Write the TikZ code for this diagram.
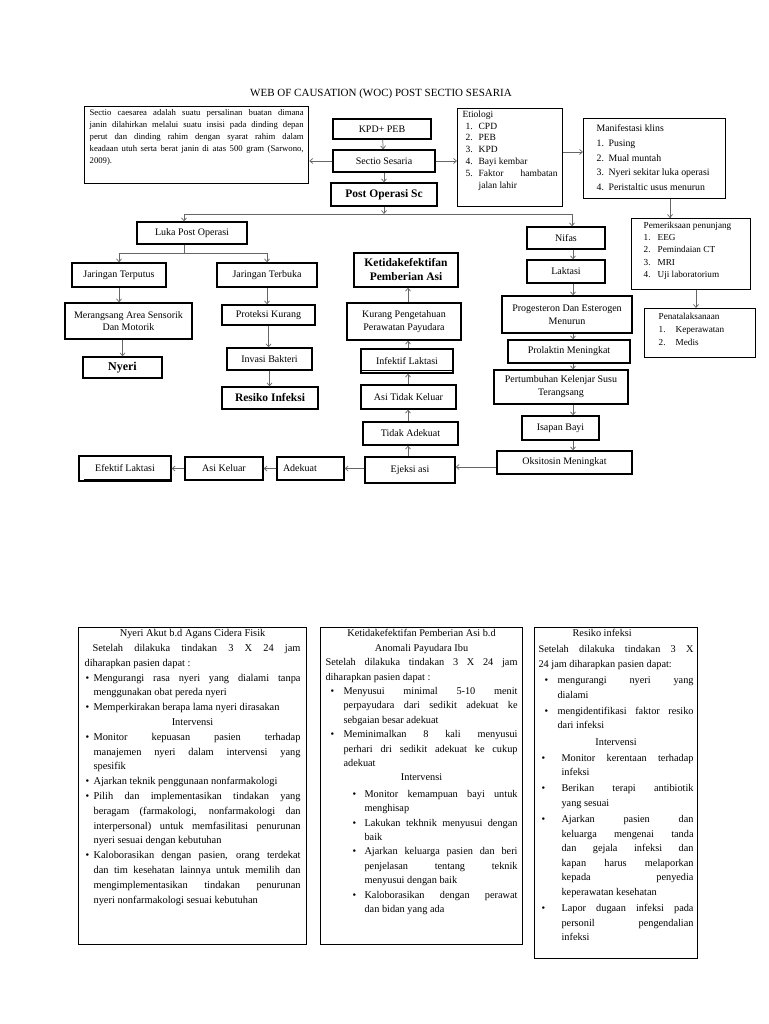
\documentclass[tikz,border=0pt]{standalone}
\usepackage{fontspec}
\setmainfont{Liberation Serif}
\usetikzlibrary{arrows.meta}
\newcommand{\fsn}{\fontsize{10}{12.8}\selectfont}
\newcommand{\fsb}{\fontsize{11.5}{14}\selectfont\bfseries}
\newcommand{\fsd}{\fontsize{8.7}{12}\selectfont}
\newcommand{\fse}{\fontsize{9.5}{11.8}\selectfont}
\newcommand{\fsm}{\fontsize{9.8}{14.8}\selectfont}
\newcommand{\fsp}{\fontsize{9.2}{12.4}\selectfont}
\newcommand{\fsq}{\fontsize{9.2}{13}\selectfont}
\newcommand{\lab}[4]{\par\noindent\hangindent=#2\hangafter=1\makebox[#2][l]{\hspace*{#1}#3}\ignorespaces#4}
\newcommand{\bul}[3]{\lab{#1}{#2}{\textbullet}{#3}}
\tikzset{
  box/.style={draw, line width=1.3pt, align=center, inner sep=1pt, font=\fsn},
  tbox/.style={draw, line width=1.1pt, anchor=north west, align=left},
  arr/.style={draw=black!60, line width=0.7pt, -{Straight Barb[length=3pt,width=5pt]}},
  ln/.style={draw=black!60, line width=0.7pt},
}
\begin{document}
\begin{tikzpicture}[x=1pt,y=-1pt]
\useasboundingbox (0,0) rectangle (768,1024);
\fill[white] (0,0) rectangle (768,1024);

\node[font=\fontsize{11}{13}\selectfont] (title) at (381,94) {WEB OF CAUSATION (WOC) POST SECTIO SESARIA};

% top row
\node[tbox, line width=1.3pt, inner xsep=5pt, inner ysep=3pt] (def) at (84,106)
 {\parbox[t][71pt][t]{214pt}{\fsd Sectio caesarea adalah suatu persalinan buatan dimana\linebreak
 janin dilahirkan melalui suatu insisi pada dinding depan\linebreak
 perut dan dinding rahim dengan syarat rahim dalam\linebreak
 keadaan utuh serta berat janin di atas 500 gram (Sarwono,\linebreak
 2009).}};
\node[box, minimum width=98, minimum height=20] (kpd) at (382,129) {KPD+ PEB};
\node[box, minimum width=102, minimum height=22] (sectio) at (384,161) {Sectio Sesaria};
\node[box, font=\fsb, minimum width=106, minimum height=23] (post) at (384,194.5) {Post Operasi Sc};

\node[tbox, line width=1.3pt, inner xsep=5pt, inner ysep=2pt] (etio) at (457,108)
 {\parbox[t][94pt][t]{95pt}{\fse Etiologi
 \lab{3pt}{16pt}{1.}{CPD}
 \lab{3pt}{16pt}{2.}{PEB}
 \lab{3pt}{16pt}{3.}{KPD}
 \lab{3pt}{16pt}{4.}{Bayi kembar}
 \lab{3pt}{16pt}{5.}{Faktor hambatan\linebreak jalan lahir}}};

\node[tbox, line width=1.3pt, inner xsep=4pt, inner ysep=6pt] (manif) at (583,118)
 {\parbox[t][68pt][t]{134pt}{\fsm \hspace*{9pt}Manifestasi klins
 \lab{9pt}{21pt}{1.}{Pusing}
 \lab{9pt}{21pt}{2.}{Mual muntah}
 \lab{9pt}{21pt}{3.}{Nyeri sekitar luka operasi}
 \lab{9pt}{21pt}{4.}{Peristaltic usus menurun}}};

\node[tbox, line width=1.3pt, inner xsep=4pt, inner ysep=3pt] (pem) at (631,218)
 {\parbox[t][65pt][t]{111pt}{\fsp \hspace*{8pt}Pemeriksaan penunjang
 \lab{8pt}{22pt}{1.}{EEG}
 \lab{8pt}{22pt}{2.}{Pemindaian CT}
 \lab{8pt}{22pt}{3.}{MRI}
 \lab{8pt}{22pt}{4.}{Uji laboratorium}}};

\node[tbox, line width=1.3pt, inner xsep=4pt, inner ysep=4pt] (pen) at (644,308)
 {\parbox[t][41pt][t]{103pt}{\fsq \hspace*{10pt}Penatalaksanaan
 \lab{10pt}{27pt}{1.}{Keperawatan}
 \lab{10pt}{27pt}{2.}{Medis}}};

% left branch
\node[box, minimum width=110, minimum height=22] (luka) at (192,233) {Luka Post Operasi};
\node[box, minimum width=94, minimum height=24] (jtp) at (119,275) {Jaringan Terputus};
\node[box, minimum width=100, minimum height=24] (jtb) at (267,275) {Jaringan Terbuka};
\node[box, minimum width=127, minimum height=36] (mer) at (128.5,321) {Merangsang Area Sensorik\\Dan Motorik};
\node[box, font=\fontsize{12}{14}\selectfont\bfseries, minimum width=79, minimum height=21] (nyeri) at (122.5,367.5) {Nyeri};
\node[box, minimum width=93, minimum height=20] (prot) at (268.5,315) {Proteksi Kurang};
\node[box, minimum width=85, minimum height=22] (inv) at (269.5,359) {Invasi Bakteri};
\node[box, font=\fsb, minimum width=96, minimum height=22] (res) at (270,398) {Resiko Infeksi};

% middle column
\node[box, font=\fsb, minimum width=104, minimum height=34] (ketid) at (406,270) {Ketidakefektifan\\Pemberian Asi};
\node[box, minimum width=114, minimum height=37] (kur) at (404,321.5) {Kurang Pengetahuan\\Perawatan Payudara};
\node[box, minimum width=92, minimum height=24] (inf) at (407,361) {Infektif Laktasi};
\node[box, minimum width=95, minimum height=24] (atk) at (408.5,397) {Asi Tidak Keluar};
\node[box, minimum width=95, minimum height=23] (tad) at (410.5,433.5) {Tidak Adekuat};
\node[box, minimum width=90, minimum height=26] (ejk) at (410,470) {Ejeksi asi};

% right column
\node[box, minimum width=78, minimum height=22] (nifas) at (566,238) {Nifas};
\node[box, minimum width=78, minimum height=23] (lak) at (566,271.5) {Laktasi};
\node[box, minimum width=130, minimum height=37] (prog) at (567,314.5) {Progesteron Dan Esterogen\\Menurun};
\node[box, minimum width=122, minimum height=23] (prol) at (569,351.5) {Prolaktin Meningkat};
\node[box, minimum width=134, minimum height=34] (pert) at (561,387) {Pertumbuhan Kelenjar Susu\\Terangsang};
\node[box, minimum width=77, minimum height=24] (isap) at (560.5,428) {Isapan Bayi};
\node[box, minimum width=135, minimum height=23] (oks) at (564.5,462.5) {Oksitosin Meningkat};

% bottom row
\node[box, minimum width=67, minimum height=23, text width=55, align=left] (adk) at (310.5,468.5) {Adekuat};
\node[box, minimum width=78, minimum height=23] (ask) at (224,468.5) {Asi Keluar};
\node[box, minimum width=92, minimum height=25] (efk) at (125,468.5) {Efektif Laktasi};
\draw[line width=1.3pt] ([xshift=6pt,yshift=2.5pt]efk.south west) -- ([yshift=2.5pt]efk.south east);
\draw[line width=1.3pt] ([xshift=2pt,yshift=3pt]inf.south west) -- ([yshift=3pt]inf.south east);

% helper coordinates
\coordinate (ym) at (0,152);
\coordinate (xpm) at (670,0);
\coordinate (xpp) at (696,0);
\coordinate (barL) at (184,214);
\coordinate (barR) at (572,214);
\coordinate (lb) at (184,253);
\coordinate (lbL) at (119,253);
\coordinate (lbR) at (267,253);
\coordinate (colR) at (573,0);
\coordinate (colM) at (408,0);
\coordinate (rowE) at (0,467);
\coordinate (rowB) at (0,468.5);

% connectors top
\draw[arr] (kpd) -- (sectio);
\draw[arr] (sectio) -- (post);
\draw[arr] (sectio.west) -- (sectio.west -| def.east);
\draw[arr] (sectio.east) -- (sectio.east -| etio.west);
\draw[arr] (etio.east |- ym) -- (manif.west |- ym);
\draw[ln] (manif.south -| xpm) -- (pem.north -| xpm);
\draw[arr] ([yshift=6pt]pem.north -| xpm) -- (pem.north -| xpm);
\draw[arr] (pem.south -| xpp) -- (pen.north -| xpp);

\draw[arr] (post.south) -- (post.south |- barL);
\draw[ln] (barL) -- (barR);
\draw[arr] (barL) -- (luka.north -| barL);
\draw[arr] (barR) -- (nifas.north -| barR);

% left branch
\draw[ln] (luka.south -| lb) -- (lb);
\draw[ln] (lbL) -- (lbR);
\draw[arr] (lbL) -- (jtp.north -| lbL);
\draw[arr] (lbR) -- (jtb.north -| lbR);
\draw[arr] (jtp.south) -- (jtp.south |- mer.north);
\draw[arr] (mer.south -| nyeri.north) -- (nyeri.north);
\draw[arr] (jtb.south) -- (jtb.south |- prot.north);
\draw[arr] (prot.south) -- (prot.south |- inv.north);
\draw[arr] (inv.south) -- (inv.south |- res.north);

% right column
\draw[arr] (nifas.south -| colR) -- (lak.north -| colR);
\draw[arr] (lak.south -| colR) -- (prog.north -| colR);
\draw[arr] (prog.south -| colR) -- (prol.north -| colR);
\draw[arr] (prol.south -| colR) -- (pert.north -| colR);
\draw[arr] (pert.south -| colR) -- (isap.north -| colR);
\draw[arr] (isap.south -| colR) -- (oks.north -| colR);
\draw[arr] (oks.west |- rowE) -- (ejk.east |- rowE);

% middle column (upwards)
\draw[arr] (ejk.north -| colM) -- (tad.south -| colM);
\draw[arr] (tad.north -| colM) -- (atk.south -| colM);
\draw[arr] (atk.north -| colM) -- (inf.south -| colM);
\draw[arr] (inf.north -| colM) -- (kur.south -| colM);
\draw[arr] (kur.north -| colM) -- (ketid.south -| colM);

% bottom row leftwards
\draw[arr] (ejk.west |- rowB) -- (adk.east |- rowB);
\draw[arr] (adk.west |- rowB) -- (ask.east |- rowB);
\draw[arr] (ask.west |- rowB) -- (efk.east |- rowB);

% lower boxes
\node[tbox, inner xsep=6pt, inner ysep=2pt] (nb1) at (78,627)
 {\parbox[t][313pt][t]{216pt}{\fontsize{10.4}{14.8}\selectfont
 {\centering Nyeri Akut b.d Agans Cidera Fisik\par}
 \hspace*{8pt}Setelah dilakuka tindakan 3 X 24 jam\linebreak diharapkan pasien dapat :
 \bul{1pt}{9pt}{Mengurangi rasa nyeri yang dialami tanpa\linebreak menggunakan obat pereda nyeri}
 \bul{1pt}{9pt}{Memperkirakan berapa lama nyeri dirasakan}
 \par{\centering Intervensi\par}
 \bul{1pt}{9pt}{Monitor kepuasan pasien terhadap\linebreak manajemen nyeri dalam intervensi yang\linebreak spesifik}
 \bul{1pt}{9pt}{Ajarkan teknik penggunaan nonfarmakologi}
 \bul{1pt}{9pt}{Pilih dan implementasikan tindakan yang\linebreak beragam (farmakologi, nonfarmakologi dan\linebreak interpersonal) untuk memfasilitasi penurunan\linebreak nyeri sesuai dengan kebutuhan}
 \bul{1pt}{9pt}{Kaloborasikan dengan pasien, orang terdekat\linebreak dan tim kesehatan lainnya untuk memilih dan\linebreak mengimplementasikan tindakan penurunan\linebreak nyeri nonfarmakologi sesuai kebutuhan}}};

\node[tbox, inner xsep=5pt, inner ysep=2pt] (nb2) at (320,627)
 {\parbox[t][313pt][t]{192pt}{\fontsize{10.3}{14.4}\selectfont
 {\centering Ketidakefektifan Pemberian Asi b.d\\Anomali Payudara Ibu\par}
 Setelah dilakuka tindakan 3 X 24 jam\linebreak diharapkan pasien dapat :
 \bul{5pt}{18pt}{Menyusui minimal 5-10 menit\linebreak perpayudara dari sedikit adekuat ke\linebreak sebgaian besar adekuat}
 \bul{5pt}{18pt}{Meminimalkan 8 kali menyusui\linebreak perhari dri sedikit adekuat ke cukup\linebreak adekuat}
 \par{\centering Intervensi\par}\vspace{2pt}
 \bul{27pt}{39pt}{Monitor kemampuan bayi untuk\linebreak menghisap}
 \bul{27pt}{39pt}{Lakukan tekhnik menyusui dengan\linebreak baik}
 \bul{27pt}{39pt}{Ajarkan keluarga pasien dan beri\linebreak penjelasan tentang teknik\linebreak menyusui dengan baik}
 \bul{27pt}{39pt}{Kaloborasikan dengan perawat\linebreak dan bidan yang ada}}};

\node[tbox, inner xsep=4pt, inner ysep=2pt] (nb3) at (534,627)
 {\parbox[t][327pt][t]{155pt}{\fontsize{10.3}{14.6}\selectfont\parskip=1.5pt
 \hspace*{34pt}Resiko infeksi\par
 Setelah dilakuka tindakan 3 X\linebreak 24 jam diharapkan pasien dapat:
 \bul{6pt}{19pt}{mengurangi nyeri yang\linebreak dialami}
 \bul{6pt}{19pt}{mengidentifikasi faktor resiko\linebreak dari infeksi}
 \par{\centering Intervensi\par}
 \bul{3pt}{23pt}{Monitor kerentaan terhadap\linebreak infeksi}
 \bul{3pt}{23pt}{Berikan terapi antibiotik\linebreak yang sesuai}
 \bul{3pt}{23pt}{Ajarkan pasien dan\linebreak keluarga mengenai tanda\linebreak dan gejala infeksi dan\linebreak kapan harus melaporkan\linebreak kepada penyedia\linebreak keperawatan kesehatan}
 \bul{3pt}{23pt}{Lapor dugaan infeksi pada\linebreak personil pengendalian\linebreak infeksi}}};
\end{tikzpicture}
\end{document}
